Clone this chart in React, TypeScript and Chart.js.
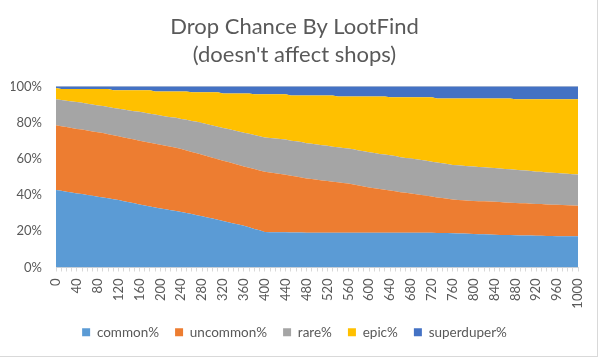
import React, { useEffect, useRef } from "react";
import { Chart, registerables } from "chart.js";

Chart.register(...registerables);

// x categories: LootFind 0..1000 step 10
const lootFind: string[] = Array.from({ length: 101 }, (_, i) => String(i * 10));

const common = [
  42.8, 42.3, 41.8, 41.4, 40.9, 40.5, 40.0, 39.6, 39.1, 38.7, 38.2,
  37.7, 37.2, 36.6, 36.0, 35.4, 34.8, 34.2, 33.7, 33.1, 32.6,
  32.1, 31.6, 31.2, 30.7, 30.1, 29.5, 28.9, 28.3, 27.6, 27.0,
  26.3, 25.6, 25.0, 24.3, 23.7, 23.0, 22.2, 21.3, 20.5, 19.6,
  19.5, 19.5, 19.4, 19.4, 19.3, 19.3, 19.3, 19.2, 19.2, 19.2,
  19.2, 19.2, 19.2, 19.2, 19.2, 19.2, 19.2, 19.2, 19.2, 19.2,
  19.2, 19.2, 19.2, 19.2, 19.2, 19.2, 19.2, 19.2, 19.2, 19.2,
  19.2, 19.2, 19.1, 19.1, 19.0, 18.9, 18.8, 18.7, 18.6, 18.5,
  18.4, 18.3, 18.2, 18.1, 18.0, 17.9, 17.9, 17.8, 17.7, 17.7,
  17.6, 17.5, 17.5, 17.4, 17.4, 17.3, 17.3, 17.3, 17.2, 17.2,
];

const uncommon = [
  35.7, 35.7, 35.7, 35.6, 35.6, 35.6, 35.6, 35.5, 35.5, 35.5, 35.4,
  35.3, 35.2, 35.2, 35.2, 35.2, 35.2, 35.2, 35.2, 35.2, 35.2,
  35.1, 35.0, 34.9, 34.7, 34.5, 34.3, 34.1, 33.9, 33.8, 33.6,
  33.4, 33.3, 33.2, 33.1, 32.9, 32.8, 32.9, 33.0, 33.1, 33.2,
  32.9, 32.5, 32.2, 31.8, 31.3, 30.9, 30.4, 29.9, 29.6, 29.2,
  28.8, 28.5, 28.1, 27.8, 27.4, 27.1, 26.6, 26.0, 25.5, 25.0,
  24.6, 24.1, 23.7, 23.3, 22.9, 22.4, 22.0, 21.6, 21.2, 20.8,
  20.4, 20.0, 19.6, 19.2, 18.9, 18.6, 18.5, 18.4, 18.3, 18.2,
  18.2, 18.2, 18.2, 18.2, 18.1, 18.0, 17.9, 17.8, 17.8, 17.7,
  17.6, 17.5, 17.5, 17.4, 17.3, 17.3, 17.2, 17.1, 17.0, 16.9,
];

const rare = [
  14.3, 14.4, 14.5, 14.6, 14.8, 14.8, 14.8, 14.8, 14.8, 14.9, 15.0,
  15.1, 15.2, 15.4, 15.5, 15.7, 15.9, 16.0, 16.0, 16.1, 16.1,
  16.2, 16.3, 16.5, 16.6, 16.9, 17.1, 17.4, 17.6, 17.7, 17.8,
  18.0, 18.1, 18.2, 18.3, 18.5, 18.6, 18.7, 18.8, 18.9, 19.0,
  19.1, 19.2, 19.3, 19.4, 19.4, 19.5, 19.5, 19.5, 19.5, 19.5,
  19.5, 19.5, 19.4, 19.4, 19.4, 19.4, 19.4, 19.4, 19.4, 19.4,
  19.4, 19.4, 19.4, 19.4, 19.4, 19.3, 19.3, 19.3, 19.3, 19.3,
  19.3, 19.2, 19.2, 19.2, 19.2, 19.1, 19.1, 19.1, 19.0, 19.0,
  18.9, 18.8, 18.7, 18.6, 18.5, 18.4, 18.4, 18.3, 18.2, 18.1,
  18.0, 17.9, 17.8, 17.7, 17.6, 17.5, 17.4, 17.3, 17.3, 17.2,
];

const epic = [
  6.3, 6.1, 6.5, 6.9, 7.2, 7.6, 8.1, 8.6, 9.1, 9.4, 9.9,
  9.7, 10.2, 10.6, 11.1, 11.5, 11.9, 12.4, 12.9, 12.8, 13.3,
  13.8, 14.3, 14.6, 15.2, 15.7, 15.8, 16.3, 16.9, 17.6, 18.3,
  19.0, 19.1, 19.7, 20.4, 21.0, 21.7, 22.3, 22.5, 23.1, 23.8,
  24.1, 24.4, 24.7, 25.0, 25.0, 25.3, 25.8, 26.4, 26.7, 27.1,
  27.5, 27.8, 28.3, 28.0, 28.4, 28.7, 29.2, 29.8, 30.3, 30.8,
  31.2, 31.7, 32.1, 32.0, 32.4, 33.0, 33.4, 33.8, 34.2, 34.6,
  35.0, 35.5, 35.4, 35.8, 36.2, 36.7, 36.9, 37.1, 37.4, 37.6,
  37.8, 38.0, 38.2, 38.4, 38.7, 39.0, 39.1, 39.0, 39.2, 39.4,
  39.7, 40.0, 40.1, 40.4, 40.6, 40.8, 41.0, 41.2, 41.4, 41.6,
];

const superduper = [
  0.9, 1.5, 1.5, 1.5, 1.5, 1.5, 1.5, 1.5, 1.5, 1.5, 1.5,
  2.2, 2.2, 2.2, 2.2, 2.2, 2.2, 2.2, 2.2, 2.8, 2.8,
  2.8, 2.8, 2.8, 2.8, 2.8, 3.3, 3.3, 3.3, 3.3, 3.3,
  3.3, 3.9, 3.9, 3.9, 3.9, 3.9, 3.9, 4.4, 4.4, 4.4,
  4.4, 4.4, 4.4, 4.4, 5.0, 5.0, 5.0, 5.0, 5.0, 5.0,
  5.0, 5.0, 5.0, 5.6, 5.6, 5.6, 5.6, 5.6, 5.6, 5.6,
  5.6, 5.6, 5.6, 6.1, 6.1, 6.1, 6.1, 6.1, 6.1, 6.1,
  6.1, 6.1, 6.7, 6.7, 6.7, 6.7, 6.7, 6.7, 6.7, 6.7,
  6.7, 6.7, 6.7, 6.7, 6.7, 6.7, 6.7, 7.1, 7.1, 7.1,
  7.1, 7.1, 7.1, 7.1, 7.1, 7.1, 7.1, 7.1, 7.1, 7.1,
];

const seriesNames = ["common%", "uncommon%", "rare%", "epic%", "superduper%"];
const seriesColors = ["#5B9BD5", "#ED7D31", "#A5A5A5", "#FFC000", "#4472C4"];
const yTicks = [0, 20, 40, 60, 80, 100];

const FONT = "Lato, 'Open Sans', sans-serif";
const TEXT = "#595959";
const GRID = "#d9d9d9";

export default function App() {
  const ref = useRef<HTMLCanvasElement | null>(null);

  useEffect(() => {
    if (!ref.current) return;
    const values = [common, uncommon, rare, epic, superduper];
    const chart = new Chart(ref.current, {
      type: "line",
      data: {
        labels: lootFind,
        datasets: values.map((v, i) => ({
          label: seriesNames[i],
          data: v,
          backgroundColor: seriesColors[i],
          borderColor: seriesColors[i],
          borderWidth: 0,
          pointRadius: 0,
          tension: 0,
          fill: i === 0 ? "origin" : "-1",
        })),
      },
      options: {
        responsive: false,
        animation: false,
        layout: { padding: { left: 11, right: 19, top: 0, bottom: 7 } },
        plugins: {
          tooltip: { enabled: false },
          title: {
            display: true,
            text: ["Drop Chance By LootFind", "(doesn't affect shops)"],
            color: TEXT,
            font: { family: FONT, size: 22, weight: "normal", lineHeight: 1.28 },
            padding: { top: 13, bottom: 17 },
          },
          legend: {
            position: "bottom",
            labels: {
              color: TEXT,
              font: { family: FONT, size: 13.5 },
              boxWidth: 8,
              boxHeight: 8,
              padding: 16,
            },
          },
        },
        scales: {
          x: {
            stacked: true,
            offset: false,
            border: { display: true, color: GRID },
            grid: {
              display: true,
              drawOnChartArea: false,
              drawTicks: true,
              tickLength: 4,
              color: GRID,
            },
            ticks: {
              autoSkip: false,
              minRotation: 90,
              maxRotation: 90,
              color: TEXT,
              font: { family: FONT, size: 13 },
              padding: 7,
              callback: (_v: any, idx: number) => (idx % 4 === 0 ? lootFind[idx] : ""),
            },
            afterFit: (scale: any) => {
              scale.height = 42;
              scale.paddingLeft = 0;
              scale.paddingRight = 0;
            },
          },
          y: {
            stacked: true,
            min: 0,
            max: 100,
            border: { display: false },
            grid: { color: GRID, drawTicks: false },
            afterBuildTicks: (scale: any) => {
              scale.ticks = yTicks.map((v) => ({ value: v }));
            },
            ticks: {
              color: TEXT,
              font: { family: FONT, size: 13 },
              padding: 14,
              callback: (v: any) => v + "%",
            },
            afterFit: (scale: any) => {
              scale.width = 45;
            },
          },
        },
      },
    });
    return () => chart.destroy();
  }, []);

  return (
    <div
      style={{
        position: "fixed",
        left: 0,
        top: 0,
        width: 598,
        height: 357,
        boxSizing: "border-box",
        borderRight: "1px solid #d9d9d9",
        borderBottom: "1px solid #d9d9d9",
        background: "#fff",
      }}
    >
      <canvas ref={ref} width={597} height={356} style={{ display: "block" }} />
    </div>
  );
}
